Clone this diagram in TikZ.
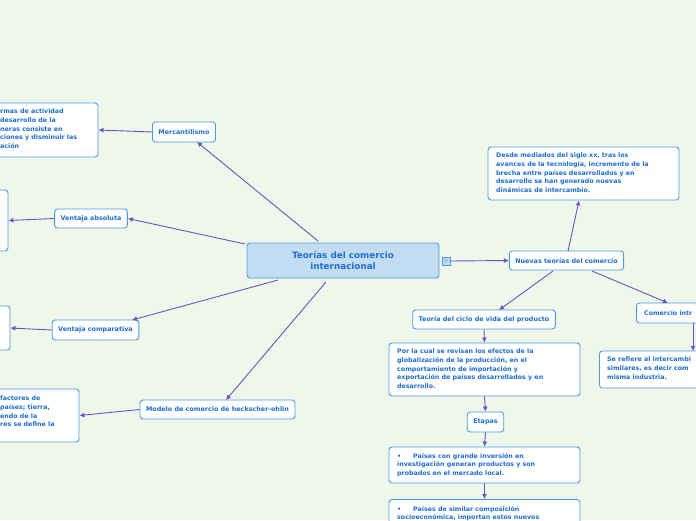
\documentclass[tikz,border=0pt]{standalone}
\usepackage{fontspec}
\setmainfont{DejaVu Sans}
\usetikzlibrary{arrows.meta}
\definecolor{bg}{HTML}{EFF7EA}
\definecolor{tx}{HTML}{1E6FD0}
\definecolor{bd}{HTML}{4A9AE8}
\definecolor{ar}{HTML}{6A52C0}
\definecolor{cf}{HTML}{C2DDF1}
\begin{document}
\begin{tikzpicture}[x=1pt,y=-1pt,
  box/.style={draw=bd,line width=0.9pt,rounded corners=3pt,fill=white,inner sep=0pt},
  lbl/.style={box,font=\fontsize{6.4}{8}\selectfont\bfseries,text=tx,inner xsep=6pt,inner ysep=5pt},
  txt/.style={font=\fontsize{6.3}{8.6}\selectfont\bfseries,text=tx,align=left,anchor=north west,inner sep=0pt},
  con/.style={draw=ar,line width=0.9pt,-{Latex[length=5pt,width=5pt]}}]
\useasboundingbox (0,0) rectangle (696,520);
\clip (0,0) rectangle (696,520);
\fill[bg] (0,0) rectangle (696,520);
% central
\node[box,fill=cf,minimum width=192pt,minimum height=35pt,font=\fontsize{8.8}{10.5}\selectfont\bfseries,text=tx,align=center] (c) at (343,260.5) {Teorías del comercio\\internacional};
\node[draw=bd,fill=cf,line width=0.4pt,minimum width=8pt,minimum height=8pt,inner sep=0pt,font=\fontsize{6}{6}\selectfont,text=bd] (ic) at (446,261) {$\equiv$};
% left side
\node[lbl,minimum height=20pt] (merc) at (184,132) {Mercantilismo};
\node[box,minimum height=54pt,minimum width=120pt] (mb) at (38,130) {};
\node[txt] at (0,109) {rmas de actividad\\ desarrollo de la\\neras consiste en\\ciones y disminuir las\\ación};
\node[lbl,minimum height=19pt] (va) at (91,218.5) {Ventaja absoluta};
\node[box,minimum height=61pt,minimum width=40pt] (vab) at (-12,220.5) {};
\node[lbl,minimum height=20pt] (vc) at (95.5,330) {Ventaja comparativa};
\node[box,minimum height=44pt,minimum width=40pt] (vcb) at (-10,328) {};
\node[lbl,minimum height=19pt] (mo) at (217.5,409.5) {Modelo de comercio de heckscher-ohlin};
\node[box,minimum height=53pt,minimum width=120pt] (mob) at (19,415.5) {};
\node[txt] at (0,396) {factores de\\países; tierra,\\endo de la\\res se  define la};
% right side
\node[lbl,minimum height=19pt] (nu) at (566.5,260.5) {Nuevas teorías del comercio};
\node[box,minimum width=191pt,minimum height=53pt] (de) at (583.5,173.5) {};
\node[txt] at (496,153) {Desde mediados del siglo xx,  tras los\\avances de la tecnología, incremento de la\\brecha entre países desarrollados y en\\desarrollo  se  han generado nuevas\\dinámicas de intercambio.};
\node[lbl,minimum height=19pt] (te) at (484,319.5) {Teoría del ciclo de vida del producto};
\node[box,minimum width=191pt,minimum height=53pt] (po) at (484.5,369.5) {};
\node[txt] at (397,349) {Por la cual se revisan los efectos de la\\globalización de la producción, en el\\comportamiento de importación y\\exportación de países desarrollados y en\\desarrollo.};
\node[lbl,minimum height=20pt] (et) at (485.5,422) {Etapas};
\node[box,minimum width=191pt,minimum height=36pt] (b1) at (484.5,465) {};
\node[txt] at (397,453) {•\hspace{12pt}Países con grande inversión en\\investigación generan productos y son\\probados en el mercado local.};
\node[box,minimum width=191pt,minimum height=45pt] (b2) at (484.5,522) {};
\node[txt] at (397,506) {•\hspace{12pt}Países de similar composición\\socioeconómica, importan estos nuevos};
\node[box,minimum width=120pt,minimum height=20pt,anchor=west] (ci) at (636,313) {};
\node[txt,anchor=west] at (644,313) {Comercio intr};
\node[box,minimum width=140pt,minimum height=37pt,anchor=west] (se) at (599,369.5) {};
\node[txt] at (607,357) {Se refiere al  intercambi\\similares, es decir com\\misma industria.};
% connectors
\draw[con] (318,241) -- (197,142);
\draw[con] (245,244) -- (va.east);
\draw[con] (278,280) -- (132,320);
\draw[con] (326,282) -- (226,400);
\draw[con] (ic.east) -- (nu.west);
\draw[con] (merc.west) -- (mb.east);
\draw[con] (va.west) -- (vab.east);
\draw[con] (vc.west) -- (vcb.east);
\draw[con] (mo.west) -- (mob.east);
\draw[con] (568,251) -- (de.south -| 579,0);
\draw[con] (553,271) -- (499,310);
\draw[con] (592,271) -- (668,303);
\draw[con] (te.south) -- (po.north);
\draw[con] (po.south) -- (et.north);
\draw[con] (et.south) -- (b1.north);
\draw[con] (b1.south) -- (b2.north);
\draw[con] (693,323) -- (693,351);
\end{tikzpicture}
\end{document}
